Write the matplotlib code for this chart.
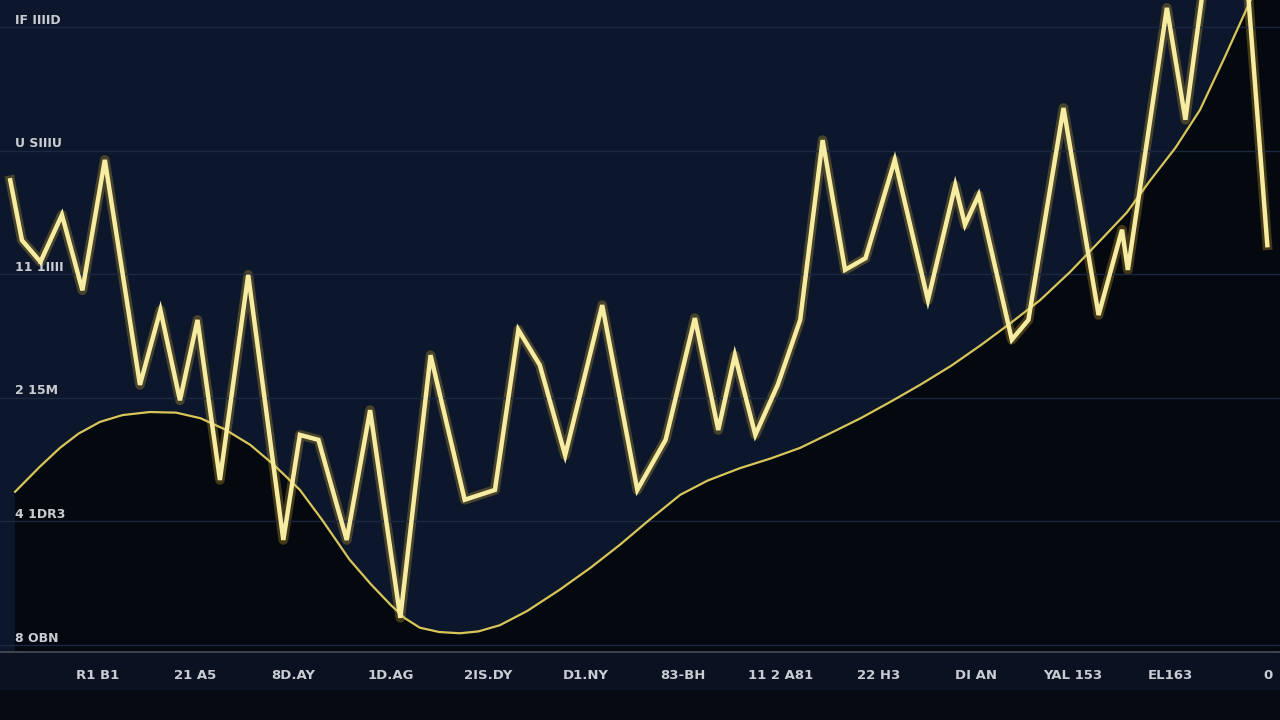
import numpy as np
import matplotlib.pyplot as plt
import matplotlib.transforms as mtrans
from matplotlib.patches import Rectangle

# tick labels as they appear on the chart
x_labels = ["R1 B1", "21 A5", "8D.AY", "1D.AG", "2IS.DY", "D1.NY", "83-BH",
            "11 2 A81", "22 H3", "DI AN", "YAL 153", "EL163", "0"]
y_labels = ["8 OBN", "4 1DR3", "2 15M", "11 1IIII", "U SIIIU", "IF IIIID"]

# main (jagged) series
main_x = [0.10, 0.22, 0.41, 0.63, 0.84, 1.07, 1.43, 1.64, 1.84, 2.02, 2.25, 2.54,
          2.90, 3.07, 3.26, 3.55, 3.79, 4.10, 4.41, 4.76, 5.07, 5.31, 5.53, 5.79,
          6.17, 6.53, 6.82, 7.12, 7.36, 7.53, 7.74, 7.97, 8.20, 8.43, 8.66, 8.87,
          9.17, 9.51, 9.79, 9.89, 10.03, 10.37, 10.54, 10.90, 11.26, 11.50, 11.56,
          11.96, 12.15, 12.33, 12.79, 12.99]
main_y = [7.52, 6.55, 6.20, 6.96, 5.74, 7.85, 4.21, 5.42, 3.96, 5.26, 2.67, 5.99,
          1.70, 3.40, 3.32, 1.70, 3.80, 0.44, 4.69, 2.35, 2.51, 5.10, 4.53, 3.07,
          5.50, 2.51, 3.32, 5.29, 3.48, 4.69, 3.40, 4.21, 5.26, 8.17, 6.07, 6.26,
          7.85, 5.58, 7.44, 6.80, 7.28, 4.94, 5.26, 8.69, 5.34, 6.72, 6.07,
          10.31, 8.50, 10.60, 10.60, 6.47]

# smooth trend curve
trend_x = [0.15, 0.40, 0.61, 0.80, 1.02, 1.25, 1.53, 1.80, 2.05, 2.30, 2.56, 2.80,
           3.07, 3.30, 3.58, 3.80, 4.00, 4.15, 4.30, 4.50, 4.71, 4.90, 5.12, 5.40,
           5.73, 6.05, 6.35, 6.65, 6.97, 7.25, 7.58, 7.90, 8.20, 8.50, 8.82, 9.12,
           9.43, 9.75, 10.05, 10.35, 10.66, 10.97, 11.28, 11.55, 11.79, 12.05,
           12.30, 12.55, 12.82]
trend_y = [2.48, 2.88, 3.19, 3.42, 3.61, 3.72, 3.77, 3.76, 3.67, 3.49, 3.24, 2.92,
           2.51, 2.02, 1.38, 0.98, 0.65, 0.43, 0.28, 0.21, 0.19, 0.22, 0.32, 0.55,
           0.89, 1.25, 1.62, 2.02, 2.43, 2.66, 2.86, 3.02, 3.19, 3.42, 3.67, 3.93,
           4.21, 4.52, 4.85, 5.20, 5.58, 6.04, 6.55, 7.00, 7.52, 8.05, 8.66,
           9.50, 10.44]

bg = "#0c172b"
fig = plt.figure(figsize=(12.8, 7.2), dpi=100)
fig.patch.set_facecolor("#0a1120")
fig.patches.append(Rectangle((0, 0), 1, 30 / 720, transform=fig.transFigure,
                             facecolor="#060a12", edgecolor="none", zorder=0))

ax = fig.add_axes([0, 68 / 720, 1, 652 / 720])
ax.set_facecolor(bg)
x_min, x_max = -0.005, 13.12
y_min, y_max = -0.113, 10.437
ax.set_xlim(x_min, x_max)
ax.set_ylim(y_min, y_max)

ax.set_yticks(np.arange(0, 12, 2))
ax.set_yticklabels(y_labels)
ax.set_xticks(np.arange(1, 14))
ax.set_xticklabels(x_labels)

ax.grid(axis="y", color="#1c2840", linewidth=1)
for s in ["top", "right", "left"]:
    ax.spines[s].set_visible(False)
ax.spines["bottom"].set_color("#4a4f5a")
ax.spines["bottom"].set_linewidth(1.2)

ax.tick_params(axis="y", direction="in", length=0, pad=-11, labelsize=9,
               labelcolor="#c9ccd3")
ax.tick_params(axis="x", length=0, pad=12, labelsize=9.5, labelcolor="#c9ccd3")
for lab in ax.get_xticklabels():
    lab.set_fontweight("bold")

# dark area under the trend curve, continuing to the right edge
fill_x = trend_x + [x_max]
fill_y = trend_y + [y_max]
ax.fill_between(fill_x, fill_y, y_min, color="#04070d", alpha=0.93, zorder=1)
ax.plot(trend_x, trend_y, color="#d8c65a", linewidth=1.6, zorder=3)

# golden glow behind the main line
ax.plot(main_x, main_y, color="#d2a62c", linewidth=7, alpha=0.3,
        solid_joinstyle="round", zorder=2)
ax.plot(main_x, main_y, color="#f6eca2", linewidth=3.2, solid_joinstyle="miter",
        zorder=4)

# y labels inside the plot, just above their gridlines (above the dark fill)
ax.yaxis.set_zorder(2.5)
offset = mtrans.ScaledTranslation(0, 7 / 100, fig.dpi_scale_trans)
for lab in ax.get_yticklabels():
    lab.set_ha("left")
    lab.set_va("center")
    lab.set_fontweight("bold")
    lab.set_transform(lab.get_transform() + offset)

fig.savefig("out.png", dpi=100, facecolor=fig.get_facecolor())
